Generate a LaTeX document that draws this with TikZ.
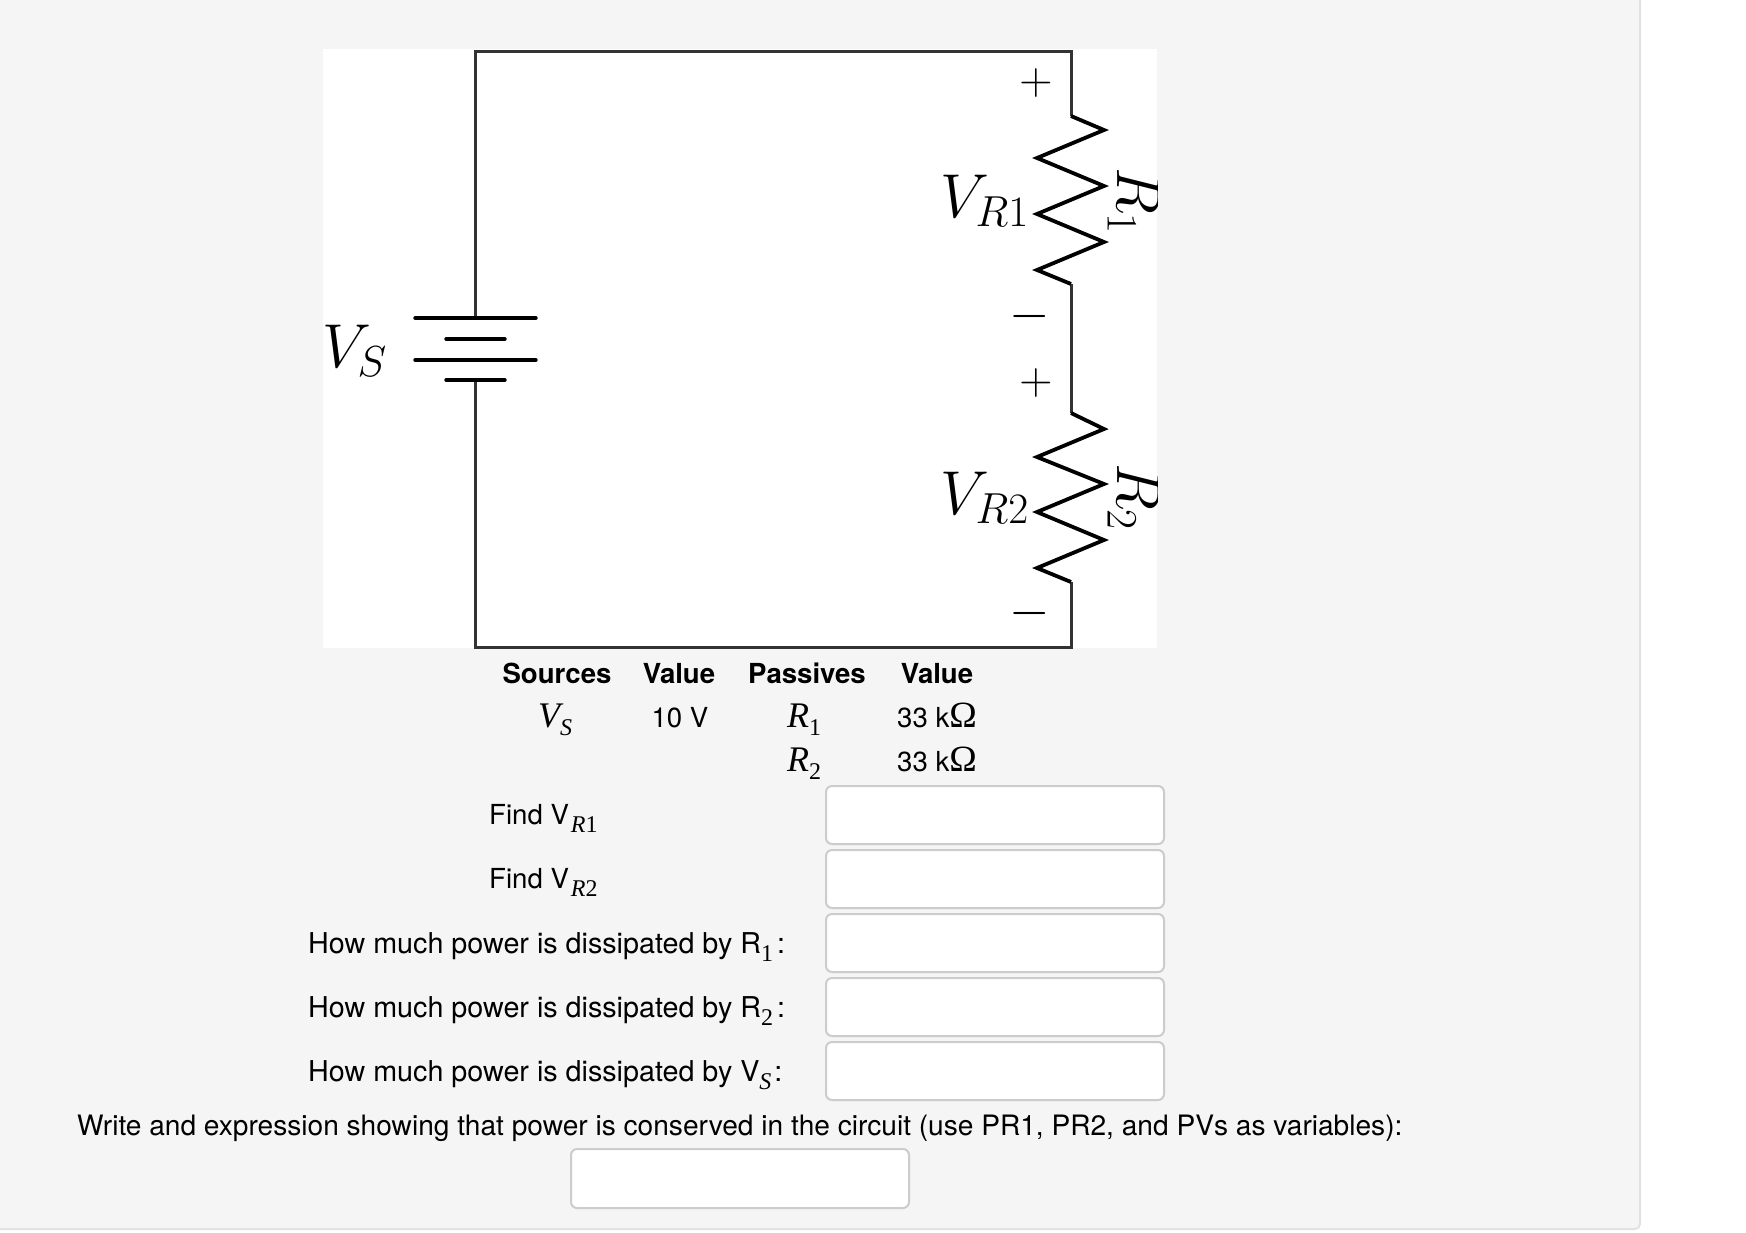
\documentclass[tikz,border=0pt]{standalone}
\usepackage{fix-cm}
\usepackage[no-math]{fontspec}
\setmainfont{TeX Gyre Heros}
\newfontfamily\timesf{Liberation Serif}
\newcommand{\fs}[1]{\fontsize{#1}{#1}\selectfont}
\newcommand{\mi}[1]{{\timesf\itshape #1}}
\newcommand{\sbi}[1]{\raisebox{-8pt}{\fs{24}\timesf\itshape #1}}
\newcommand{\sbr}[1]{\raisebox{-8pt}{\fs{24}\timesf #1}}
\definecolor{panel}{HTML}{F5F5F5}
\definecolor{panelline}{HTML}{E2E2E2}
\definecolor{boxline}{HTML}{CCCCCC}
\definecolor{wirec}{HTML}{333333}
\tikzset{
  wire/.style={draw=wirec,line width=3pt,line join=miter},
  plate/.style={draw=black,line width=3.4pt,line cap=round},
  zigzag/.style={draw=black,line width=3.8pt,line join=miter},
  inputbox/.style={draw=boxline,line width=2pt,fill=white,rounded corners=6pt},
  cmbig/.style={inner sep=0pt,font=\fs{62}},
  plussign/.style={inner sep=0pt,font=\fs{46}},
  minussign/.style={inner sep=0pt,font=\fs{52}},
  lbl/.style={inner sep=0pt,anchor=base west,font=\fs{27.6}},
  lblq/.style={inner sep=0pt,anchor=base west,font=\fs{28.7}},
  lbll/.style={inner sep=0pt,anchor=base west,font=\fs{28.1}},
  cell/.style={inner sep=0pt,anchor=base,font=\fs{27.6}},
  hcell/.style={inner sep=0pt,anchor=base,font=\fs{27.6}\bfseries},
  mcell/.style={inner sep=0pt,anchor=base,font=\fs{36}}
}
\begin{document}
\begin{tikzpicture}[x=1pt,y=-1pt]
\useasboundingbox (0,0) rectangle (1746,1232);
\fill[white] (0,0) rectangle (1746,1232);
% panel
\draw[panelline,line width=2pt,fill=panel,rounded corners=5pt] (-10,-10) rectangle (1640,1229);
% picture background
\fill[white] (323,49) rectangle (1157,648);
% circuit points
\coordinate (tl) at (475,51);
\coordinate (tr) at (1071,51);
\coordinate (bl) at (475,647);
\coordinate (br) at (1071,647);
\coordinate (bt) at (475,318);
\coordinate (bb) at (475,380);
\coordinate (r1a) at (1071,116);
\coordinate (r1b) at (1071,284);
\coordinate (r2a) at (1071,413);
\coordinate (r2b) at (1071,582);
% wires
\draw[wire] (bt) -- (tl) -- (tr) -- (r1a);
\draw[wire] (r1b) -- (r2a);
\draw[wire] (r2b) -- (br) -- (bl) -- (bb);
% battery
\draw[plate] (415,318) -- (536,318);
\draw[plate] (446,339) -- (505,339);
\draw[plate] (415,360) -- (536,360);
\draw[plate] (446,380) -- (505,380);
% resistors
\draw[zigzag] (r1a) -- (1104,130) -- (1037,158) -- (1104,186) -- (1037,214) -- (1104,242) -- (1037,270) -- (r1b);
\draw[zigzag] (r2a) -- (1104,429) -- (1037,457) -- (1104,484) -- (1037,512) -- (1104,540) -- (1037,568) -- (r2b);
% circuit labels
\node[cmbig,anchor=base west] (vs) at (322,367) {$V_S$};
\node[cmbig,anchor=base west] (vr1) at (940,217) {$V_{R1}$};
\node[cmbig,anchor=base west] (vr2) at (940,514) {$V_{R2}$};
\node[plussign] (p1) at (1036,83) {$+$};
\node[minussign] (m1) at (1030,316) {$-$};
\node[plussign] (p2) at (1036,383) {$+$};
\node[minussign] (m2) at (1030,613) {$-$};
\begin{scope}
\clip (323,49) rectangle (1157,648);
\node[cmbig,rotate=-90,anchor=base west] (r1l) at (1117,167) {$R_1$};
\node[cmbig,rotate=-90,anchor=base west] (r2l) at (1117,463) {$R_2$};
\end{scope}
% table
\node[hcell] (h1) at (557,683) {Sources};
\node[hcell] (h2) at (679,683) {Value};
\node[hcell] (h3) at (807,683) {Passives};
\node[hcell] (h4) at (937,683) {Value};
\node[mcell] (t1) at (555,727) {\mi{V}\sbi{S}};
\node[cell] (t2) at (680,727) {10 V};
\node[mcell] (t3) at (804,727) {\mi{R}\sbr{1}};
\node[cell] (t4) at (937,727) {33 k{\timesf\fs{37}Ω}};
\node[mcell] (t5) at (804,771) {\mi{R}\sbr{2}};
\node[cell] (t6) at (937,771) {33 k{\timesf\fs{37}Ω}};
% questions
\node[lbl] (q1) at (489,824) {Find V\hspace{2pt}\sbi{R}\sbr{1}};
\node[lbl] (q2) at (489,888) {Find V\hspace{2pt}\sbi{R}\sbr{2}};
\node[lblq] (q3) at (308,953) {How much power is dissipated by R\sbr{1}\hspace{4pt}:};
\node[lblq] (q4) at (308,1017) {How much power is dissipated by R\sbr{2}\hspace{4pt}:};
\node[lblq] (q5) at (308,1081) {How much power is dissipated by V\sbi{S}\hspace{3pt}:};
\node[lbll] (q6) at (77,1135) {Write and expression showing that power is conserved in the circuit (use PR1, PR2, and PVs as variables):};
% inputs
\draw[inputbox] (826,786) rectangle (1164,844);
\draw[inputbox] (826,850) rectangle (1164,908);
\draw[inputbox] (826,914) rectangle (1164,972);
\draw[inputbox] (826,978) rectangle (1164,1036);
\draw[inputbox] (826,1042) rectangle (1164,1100);
\draw[inputbox] (571,1149) rectangle (909,1208);
\end{tikzpicture}
\end{document}
